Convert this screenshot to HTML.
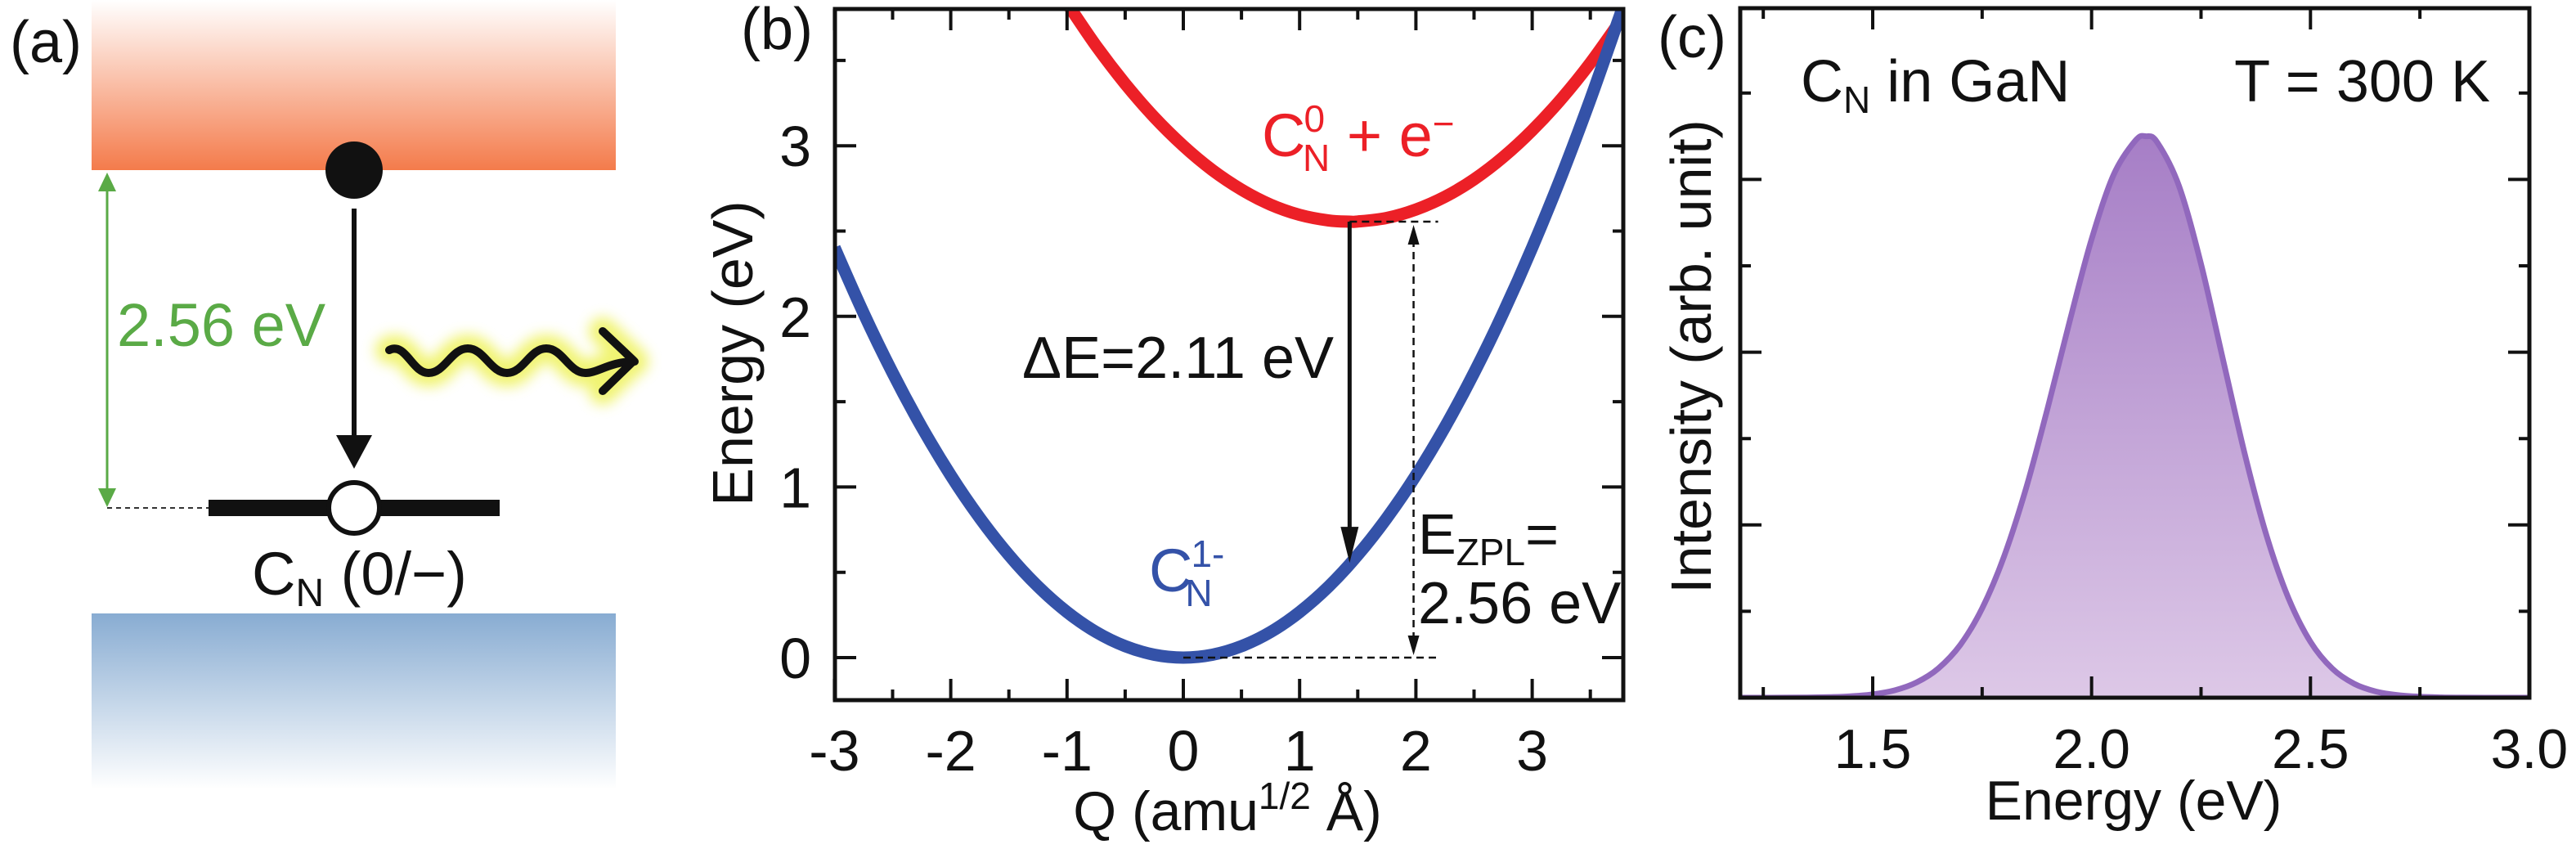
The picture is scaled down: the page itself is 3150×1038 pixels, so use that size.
<!DOCTYPE html>
<html><head><meta charset="utf-8"><style>
html,body{margin:0;padding:0;background:#fff;}
svg{display:block;font-family:"Liberation Sans",sans-serif;}
</style></head><body>
<svg id="fig" width="3150" height="1038" viewBox="0 0 3150 1038" xmlns="http://www.w3.org/2000/svg">
<defs>
<linearGradient id="cbGrad" x1="0" y1="0" x2="0" y2="1"><stop offset="0" stop-color="#fff"/><stop offset="1" stop-color="#f47b4b"/></linearGradient>
<linearGradient id="vbGrad" x1="0" y1="0" x2="0" y2="1"><stop offset="0" stop-color="#88acd2"/><stop offset="1" stop-color="#fff"/></linearGradient>
<linearGradient id="plGrad" x1="0" y1="0" x2="0" y2="1"><stop offset="0" stop-color="#a67ec6"/><stop offset="1" stop-color="#ddc8e7"/></linearGradient>
<filter id="glow" x="-20%" y="-50%" width="140%" height="200%"><feGaussianBlur stdDeviation="8"/></filter>
<clipPath id="clipB"><rect x="1021" y="11" width="964" height="845"/></clipPath>
<clipPath id="clipC"><rect x="2128" y="10" width="965" height="843"/></clipPath>
</defs>

<!-- Panel a -->
<g>
<text x="12" y="76" font-size="72" fill="#111">(a)</text>
<rect x="112" y="0" width="641" height="208" fill="url(#cbGrad)"/>
<rect x="112" y="750" width="641" height="215" fill="url(#vbGrad)"/>
<line x1="131" y1="220" x2="131" y2="610" stroke="#5aaa46" stroke-width="3"/>
<polygon points="131,211 120,234 142,234" fill="#5aaa46"/>
<polygon points="131,620 120,597 142,597" fill="#5aaa46"/>
<text x="143" y="423" font-size="74" fill="#5aaa46">2.56 eV</text>
<line x1="131" y1="621" x2="255" y2="621" stroke="#333" stroke-width="2" stroke-dasharray="6,5"/>
<rect x="255" y="611" width="356" height="20" fill="#111"/>
<line x1="433" y1="255" x2="433" y2="540" stroke="#111" stroke-width="6"/>
<polygon points="411,532 455,532 433,573" fill="#111"/>
<circle cx="433" cy="208" r="35" fill="#111"/>
<circle cx="433" cy="621" r="31" fill="#fff" stroke="#111" stroke-width="6"/>
<text x="308" y="727" font-size="74" fill="#111">C<tspan font-size="48" dy="14">N</tspan><tspan dy="-14"> (0/−)</tspan></text>
<g>
<path d="M476,428 c20,-10 28,28 48,28 s28,-30 48,-30 s28,30 48,30 s28,-30 48,-30 s28,30 48,30 c15,0 30,-14 60,-14 M737,405 L775,441 L737,478" fill="none" stroke="#eef25a" stroke-width="34" stroke-linecap="round" stroke-linejoin="round" filter="url(#glow)" opacity="0.85"/>
<path d="M476,428 c20,-10 28,28 48,28 s28,-30 48,-30 s28,30 48,30 s28,-30 48,-30 s28,30 48,30 c15,0 30,-14 60,-14 M737,405 L775,441 L737,478" fill="none" stroke="#111" stroke-width="10" stroke-linecap="round" stroke-linejoin="round"/>
</g>
</g>

<!-- Panel b -->
<g id="panelB">
<text x="906" y="60" font-size="72" fill="#111">(b)</text>
<text transform="translate(920,432) rotate(-90)" text-anchor="middle" font-size="70" fill="#111">Energy (eV)</text>
<text x="1501" y="1015" text-anchor="middle" font-size="68" fill="#111">Q (amu<tspan font-size="46" dy="-26">1/2</tspan><tspan dy="26"> Å)</tspan></text>
</g>

<!-- Panel c -->
<g id="panelC">
<text x="2027" y="70" font-size="72" fill="#111">(c)</text>
<text transform="translate(2092,436) rotate(-90)" text-anchor="middle" font-size="70" fill="#111">Intensity (arb. unit)</text>
<text x="2609" y="1002" text-anchor="middle" font-size="68" fill="#111">Energy (eV)</text>
</g>
</svg>
<script>
// ---- Panel b data ----
const qLower = [-3,-2.75,-2.5,-2.25,-2,-1.75,-1.5,-1.25,-1,-0.75,-0.5,-0.25,0,0.25,0.5,0.75,1,1.25,1.5,1.75,2,2.25,2.5,2.75,3,3.25,3.5,3.75,3.8];
const eLower = [2.403,2.019,1.669,1.352,1.068,0.818,0.601,0.417,0.267,0.150,0.067,0.017,0,0.017,0.067,0.150,0.267,0.417,0.601,0.818,1.068,1.352,1.669,2.019,2.403,2.820,3.271,3.755,3.855];
const qUpper = [-1,-0.75,-0.5,-0.25,0,0.25,0.5,0.75,1,1.25,1.43,1.5,1.75,2,2.25,2.5,2.75,3,3.25,3.5,3.78];
const eUpper = [3.836,3.586,3.363,3.167,2.999,2.857,2.743,2.655,2.595,2.562,2.555,2.556,2.577,2.626,2.701,2.803,2.933,3.090,3.274,3.485,3.753];
const qTicksB = [-3,-2,-1,0,1,2,3];
const qTickLabelsB = ["-3","-2","-1","0","1","2","3"];
const eTicksB = [0,1,2,3];
const eTickLabelsB = ["0","1","2","3"];
const eZPL = 2.555, qMinUpper = 1.43, qZPL = 1.98;
// ---- Panel c data ----
const plEnergy = [1.2,1.25,1.3,1.35,1.4,1.45,1.5,1.55,1.6,1.65,1.7,1.75,1.8,1.85,1.9,1.95,2.0,2.05,2.1,2.124,2.15,2.2,2.25,2.3,2.35,2.4,2.45,2.5,2.55,2.6,2.65,2.7,2.75,2.8,2.85,2.9,2.95,3.0];
const plIntensity = [0,0.0003,0.001,0.002,0.007,0.017,0.039,0.085,0.176,0.339,0.611,1.034,1.635,2.42,3.36,4.36,5.31,6.05,6.45,6.5,6.43,5.92,5.02,3.92,2.82,1.87,1.15,0.647,0.336,0.161,0.071,0.029,0.011,0.004,0.001,0,0,0];
const eTicksC = [1.5,2.0,2.5,3.0];
const eTickLabelsC = ["1.5","2.0","2.5","3.0"];

const NS = "http://www.w3.org/2000/svg";
function mk(parent, tag, attrs){const e=document.createElementNS(NS,tag);for(const k in attrs)e.setAttribute(k,attrs[k]);parent.appendChild(e);return e;}
function smooth(pts){
  let d='M'+pts[0][0].toFixed(1)+','+pts[0][1].toFixed(1);
  for(let i=0;i<pts.length-1;i++){
    const p0=pts[i-1]||pts[i],p1=pts[i],p2=pts[i+1],p3=pts[i+2]||p2;
    const c1=[p1[0]+(p2[0]-p0[0])/6,p1[1]+(p2[1]-p0[1])/6];
    const c2=[p2[0]-(p3[0]-p1[0])/6,p2[1]-(p3[1]-p1[1])/6];
    d+=` C${c1[0].toFixed(1)},${c1[1].toFixed(1)} ${c2[0].toFixed(1)},${c2[1].toFixed(1)} ${p2[0].toFixed(1)},${p2[1].toFixed(1)}`;
  }
  return d;
}

// Panel b axes
const bx0=1021,bx1=1985,by0=11,by1=856;
const xB = q => 1447 + q*142.2;
const yB = e => 804 - e*208.6;
const gB = document.getElementById('panelB');
const lowerPath = smooth(qLower.map((q,i)=>[xB(q),yB(eLower[i])]));
const upperPath = smooth(qUpper.map((q,i)=>[xB(q),yB(eUpper[i])]));
let p = mk(gB,'path',{d:upperPath,fill:'none',stroke:'#ec2027','stroke-width':15,'clip-path':'url(#clipB)','stroke-linejoin':'round'});


p = mk(gB,'path',{d:lowerPath,fill:'none',stroke:'#3452a8','stroke-width':15,'clip-path':'url(#clipB)','stroke-linejoin':'round'});


p = mk(gB,'rect',{x:bx0,y:by0,width:bx1-bx0,height:by1-by0,fill:'none',stroke:'#111','stroke-width':5});


for(let v=-3; v<=3.51; v+=0.5){
  const major = Math.abs(v-Math.round(v))<1e-6, L = major?26:13, x=xB(v);
  let t=mk(gB,'path',{d:`M${x},${by1}V${by1-L}M${x},${by0}V${by0+L}`,stroke:'#111','stroke-width':4});
  
  
}
for(let v=0; v<=3.51; v+=0.5){
  const major = Math.abs(v-Math.round(v))<1e-6, L = major?26:13, y=yB(v);
  let t=mk(gB,'path',{d:`M${bx0},${y}H${bx0+L}M${bx1},${y}H${bx1-L}`,stroke:'#111','stroke-width':4});
  
  
}
qTicksB.forEach((q,i)=>{let t=mk(gB,'text',{x:xB(q),y:942,'text-anchor':'middle','font-size':70,fill:'#111'});t.textContent=qTickLabelsB[i];
  
  });
eTicksB.forEach((e,i)=>{let t=mk(gB,'text',{x:992,y:yB(e)+25,'text-anchor':'end','font-size':70,fill:'#111'});t.textContent=eTickLabelsB[i];
  
  });
const eLowAtMin = 0.267*qMinUpper*qMinUpper;
p=mk(gB,'line',{x1:xB(qMinUpper),y1:yB(eZPL),x2:xB(qMinUpper),y2:yB(eLowAtMin)-40,stroke:'#111','stroke-width':5});


p=mk(gB,'polygon',{points:`${xB(qMinUpper)-11},${yB(eLowAtMin)-46} ${xB(qMinUpper)+11},${yB(eLowAtMin)-46} ${xB(qMinUpper)},${yB(eLowAtMin)-2}`,fill:'#111'});


p=mk(gB,'path',{d:`M${xB(qMinUpper)},${yB(eZPL)}H${xB(qZPL)+30}M${xB(0)},${yB(0)}H${xB(qZPL)+30}M${xB(qZPL)},${yB(eZPL)+22}V${yB(0)-22}`,stroke:'#111','stroke-width':2.5,'stroke-dasharray':'9,6',fill:'none'});


p=mk(gB,'path',{d:`M${xB(qZPL)},${yB(eZPL)+4}l-7,24h14zM${xB(qZPL)},${yB(0)-3}l-7,-24h14z`,fill:'#111'});


function txt(parent,x,y,html,size,fill,name){let t=mk(parent,'text',{x:x,y:y,'font-size':size,fill:fill});t.innerHTML=html;
  
  return t;}
txt(gB,1250,462,'ΔE=2.11 eV',72,'#111','delta-e-label');
txt(gB,1734,677,'E<tspan font-size="46" dy="14">ZPL</tspan><tspan dy="-14">=</tspan>',70,'#111','ezpl-label');
txt(gB,1734,762,'2.56 eV',72,'#111','ezpl-value');
txt(gB,1543,191,'C<tspan font-size="46" dx="-2" dy="-30">0</tspan><tspan font-size="46" dx="-27" dy="48">N</tspan><tspan dy="-18"> + e</tspan><tspan font-size="46" dy="-24">−</tspan>',74,'#ec2027','cn0-label');
txt(gB,1405,723,'C<tspan font-size="46" dx="-2" dy="-30">1-</tspan><tspan font-size="46" dx="-48" dy="48">N</tspan>',74,'#3452a8','cn1-label');

// Panel c
const cx0=2128,cx1=3093,cy0=10,cy1=853;
const xC = e => 2290 + (e-1.5)*535.3;
const yC = v => 853 - v*105.6;
const gC = document.getElementById('panelC');
let dC = smooth(plEnergy.map((e,i)=>[xC(e),yC(plIntensity[i])]));
p=mk(gC,'path',{d:dC+` L${xC(plEnergy[plEnergy.length-1])},${cy1} L${xC(plEnergy[0])},${cy1} Z`,fill:'url(#plGrad)','clip-path':'url(#clipC)'});


p=mk(gC,'path',{d:dC,fill:'none',stroke:'#9168bd','stroke-width':7,'clip-path':'url(#clipC)','stroke-linejoin':'round'});


p=mk(gC,'rect',{x:cx0,y:cy0,width:cx1-cx0,height:cy1-cy0,fill:'none',stroke:'#111','stroke-width':5});


for(let v=1.25; v<=2.76; v+=0.25){
  const major = Math.abs(v*2-Math.round(v*2))<1e-6, L = major?26:13, x=xC(v);
  let t=mk(gC,'path',{d:`M${x},${cy1}V${cy1-L}M${x},${cy0}V${cy0+L}`,stroke:'#111','stroke-width':4});
  
  
}
for(let v=1; v<=7; v++){
  const L = (v%2===0)?26:13, y=yC(v);
  let t=mk(gC,'path',{d:`M${cx0},${y}H${cx0+L}M${cx1},${y}H${cx1-L}`,stroke:'#111','stroke-width':4});
  
  
}
eTicksC.forEach((e,i)=>{let t=mk(gC,'text',{x:xC(e),y:939,'text-anchor':'middle','font-size':68,fill:'#111'});t.textContent=eTickLabelsC[i];
  
  });
txt(gC,2202,124,'C<tspan font-size="46" dy="14">N</tspan><tspan dy="-14"> in GaN</tspan>',72,'#111','material-label');
let tT=txt(gC,3045,124,'T = 300 K',72,'#111','temperature-label');tT.setAttribute('text-anchor','end');
</script>
</body></html>
